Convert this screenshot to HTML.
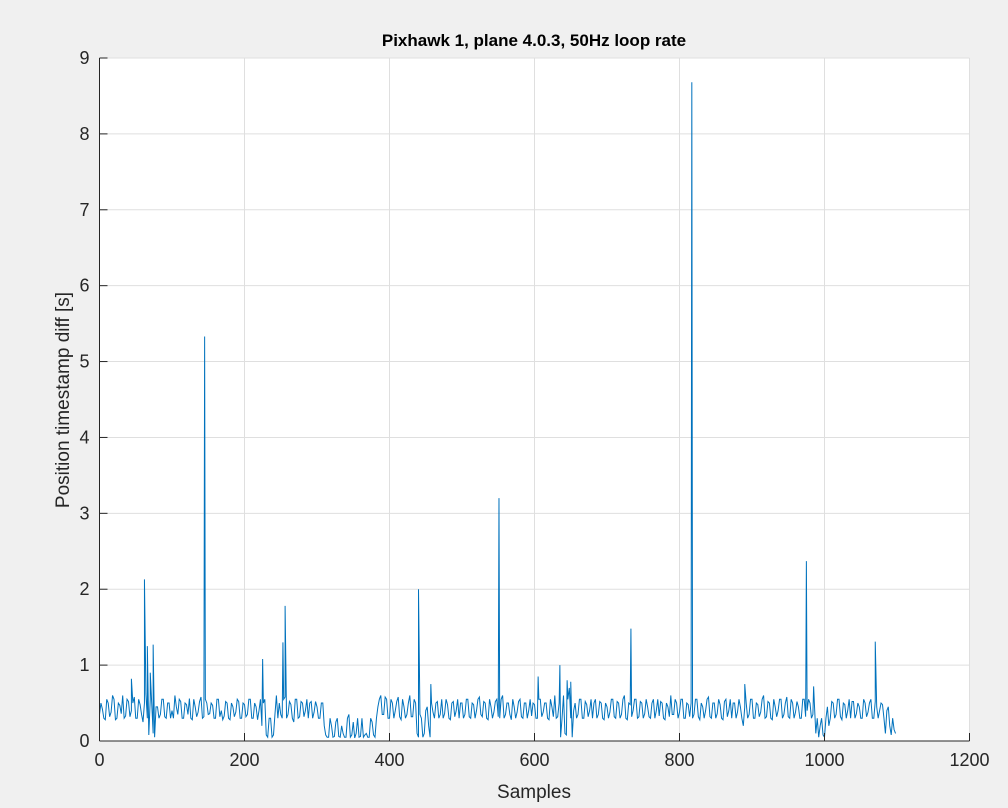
<!DOCTYPE html>
<html><head><meta charset="utf-8"><style>
body{margin:0;background:#f0f0f0;}
svg{display:block;font-family:"Liberation Sans",sans-serif;}
</style></head><body>
<svg id="chart" width="1008" height="808" viewBox="0 0 1008 808">
<rect x="0" y="0" width="1008" height="808" fill="#f0f0f0"/>
<rect x="99.5" y="58" width="870" height="683" fill="#fff"/>
<g id="grid"></g>
<g id="series"></g>
<g id="axes"></g>
<text x="534" y="46" text-anchor="middle" font-size="17" font-weight="bold">Pixhawk 1, plane 4.0.3, 50Hz loop rate</text>
<text x="534" y="798" text-anchor="middle" font-size="19" fill="#262626">Samples</text>
<text transform="translate(69,400) rotate(-90)" text-anchor="middle" font-size="19" fill="#262626">Position timestamp diff [s]</text>
</svg>
<script>
const xTicks=[0,200,400,600,800,1000,1200];
const yTicks=[0,1,2,3,4,5,6,7,8,9];
const sampleStep=4;
const bandValues=[
0.35,0.42,0.28,0.5,0.38,0.55,0.3,0.47,0.6,0.33,0.52,0.4,0.58,0.3,0.48,0.25,0.62,0.08,0.5,0.05,0.45,0.35,0.55,0.3,0.5,
0.4,0.6,0.35,0.52,0.3,0.48,0.56,0.28,0.45,0.38,0.58,0.32,0.5,0.36,0.47,0.3,0.55,0.4,0.33,0.5,0.28,0.45,0.38,0.52,0.3,
0.48,0.35,0.55,0.3,0.45,0.4,0.2,0.55,0.05,0.3,0.08,0.6,0.5,0.3,0.58,0.35,0.48,0.25,0.55,0.32,0.5,0.4,0.3,0.52,0.38,
0.45,0.3,0.5,0.08,0.05,0.2,0.06,0.3,0.05,0.1,0.05,0.35,0.08,0.04,0.3,0.06,0.05,0.1,0.05,0.25,0.05,0.45,0.6,0.35,0.55,
0.3,0.5,0.4,0.58,0.28,0.45,0.35,0.6,0.32,0.5,0.05,0.3,0.1,0.45,0.05,0.38,0.5,0.3,0.55,0.36,0.48,0.28,0.52,0.4,0.3,
0.5,0.35,0.55,0.3,0.48,0.4,0.58,0.32,0.5,0.28,0.45,0.38,0.55,0.3,0.6,0.35,0.5,0.28,0.45,0.38,0.55,0.3,0.5,0.4,0.33,
0.48,0.3,0.55,0.38,0.5,0.28,0.45,0.6,0.32,0.05,0.6,0.08,0.7,0.05,0.5,0.35,0.55,0.3,0.48,0.4,0.3,0.55,0.35,0.5,0.28,
0.45,0.38,0.55,0.3,0.5,0.35,0.6,0.28,0.48,0.4,0.55,0.32,0.5,0.36,0.45,0.3,0.55,0.4,0.33,0.5,0.28,0.45,0.6,0.35,0.5,
0.38,0.55,0.3,0.48,0.5,0.35,0.55,0.28,0.45,0.4,0.58,0.3,0.5,0.36,0.48,0.28,0.55,0.4,0.3,0.5,0.38,0.45,0.2,0.5,0.35,
0.55,0.3,0.48,0.38,0.6,0.32,0.5,0.28,0.45,0.4,0.55,0.35,0.58,0.3,0.5,0.38,0.45,0.3,0.55,0.4,0.5,0.35,0.1,0.05,0.3,
0.05,0.45,0.3,0.5,0.35,0.55,0.28,0.48,0.4,0.3,0.52,0.36,0.45,0.3,0.5,0.38,0.55,0.3,0.45,0.4,0.48,0.1,0.45,0.08,0.15];
const bandValuesOffset=[
0.5,0.3,0.55,0.32,0.6,0.28,0.5,0.36,0.3,0.55,0.32,0.5,0.3,0.55,0.35,0.5,0.3,0.55,0.1,0.45,0.3,0.55,0.32,0.5,0.3,
0.3,0.45,0.55,0.3,0.5,0.35,0.3,0.55,0.32,0.52,0.3,0.55,0.35,0.5,0.3,0.55,0.32,0.28,0.52,0.3,0.5,0.32,0.55,0.3,0.5,
0.32,0.55,0.3,0.5,0.28,0.55,0.5,0.08,0.3,0.05,0.35,0.3,0.35,0.55,0.3,0.52,0.3,0.55,0.3,0.52,0.32,0.55,0.5,0.3,0.52,
0.3,0.5,0.2,0.05,0.3,0.05,0.25,0.06,0.2,0.05,0.3,0.05,0.25,0.1,0.05,0.3,0.08,0.05,0.3,0.08,0.3,0.55,0.35,0.58,0.3,
0.55,0.3,0.52,0.32,0.55,0.3,0.5,0.32,0.55,0.1,0.35,0.05,0.4,0.2,0.5,0.3,0.52,0.35,0.3,0.55,0.3,0.5,0.32,0.55,0.5,
0.3,0.55,0.32,0.5,0.3,0.55,0.35,0.52,0.3,0.55,0.3,0.52,0.32,0.55,0.3,0.5,0.35,0.55,0.3,0.52,0.32,0.5,0.3,0.55,0.5,
0.3,0.55,0.32,0.5,0.3,0.55,0.32,0.3,0.5,0.3,0.1,0.55,0.3,0.4,0.3,0.55,0.3,0.52,0.32,0.55,0.5,0.3,0.52,0.3,0.5,
0.3,0.55,0.32,0.52,0.3,0.55,0.3,0.5,0.32,0.55,0.3,0.52,0.3,0.55,0.32,0.5,0.3,0.55,0.52,0.3,0.5,0.32,0.35,0.55,0.3,
0.55,0.3,0.5,0.32,0.3,0.55,0.32,0.5,0.3,0.55,0.32,0.5,0.3,0.55,0.3,0.52,0.32,0.55,0.5,0.3,0.55,0.3,0.45,0.3,0.55,
0.3,0.5,0.32,0.55,0.3,0.52,0.3,0.55,0.32,0.55,0.3,0.5,0.32,0.55,0.3,0.52,0.3,0.55,0.32,0.55,0.3,0.5,0.3,0.2,0.08,
0.3,0.2,0.52,0.3,0.55,0.32,0.5,0.3,0.55,0.52,0.3,0.5,0.3,0.55,0.32,0.5,0.3,0.52,0.3,0.5,0.3,0.4,0.2,0.3,0.1];
const spikeX=[44,62,66,70,74,145,225,253,256,440,457,551,605,635,645,650,733,817,890,975,985,1070];
const spikeY=[0.82,2.13,1.25,0.9,1.27,5.33,1.08,1.3,1.78,2.0,0.75,3.2,0.85,1.0,0.8,0.78,1.48,8.68,0.75,2.37,0.72,1.31];

const L=99.5,R=969.5,T=58,B=741,NS="http://www.w3.org/2000/svg";
const xs=v=>L+(v-0)/(1200-0)*(R-L);
const ys=v=>B-(v-0)/(9-0)*(B-T);
function mk(t,a,p){const e=document.createElementNS(NS,t);for(const k in a)e.setAttribute(k,a[k]);p.appendChild(e);return e;}
const grid=document.getElementById('grid'),axes=document.getElementById('axes'),series=document.getElementById('series');
xTicks.forEach(t=>{
 const g=mk('line',{x1:xs(t),x2:xs(t),y1:T,y2:B,stroke:'#dfdfdf','stroke-width':1},grid);
 
 
 const tk=mk('line',{x1:xs(t),x2:xs(t),y1:B,y2:B-8,stroke:'#262626','stroke-width':1},axes);
 
 
 const lb=mk('text',{x:xs(t),y:B+25,'text-anchor':'middle','font-size':18,fill:'#262626'},axes);
 lb.textContent=t;
 
 
});
yTicks.forEach(t=>{
 const g=mk('line',{x1:L,x2:R,y1:ys(t),y2:ys(t),stroke:'#dfdfdf','stroke-width':1},grid);
 
 
 const tk=mk('line',{x1:L,x2:L+8,y1:ys(t),y2:ys(t),stroke:'#262626','stroke-width':1},axes);
 
 
 const lb=mk('text',{x:L-10,y:ys(t)+6,'text-anchor':'end','font-size':18,fill:'#262626'},axes);
 lb.textContent=t;
 
 
});
const xa=mk('line',{x1:L,x2:R,y1:B,y2:B,stroke:'#262626','stroke-width':1},axes);


const ya=mk('line',{x1:L,x2:L,y1:T,y2:B,stroke:'#262626','stroke-width':1},axes);


const pts=bandValues.map((v,i)=>[i*sampleStep,v]);
bandValuesOffset.forEach((v,i)=>pts.push([i*sampleStep+sampleStep/2,v]));
spikeX.forEach((x,i)=>pts.push([x,spikeY[i]]));
pts.sort((a,b)=>a[0]-b[0]);
const pl=mk('polyline',{points:pts.map(p=>xs(p[0]).toFixed(2)+','+ys(p[1]).toFixed(2)).join(' '),fill:'none',stroke:'#0072BD','stroke-width':1},series);


</script>
</body></html>
